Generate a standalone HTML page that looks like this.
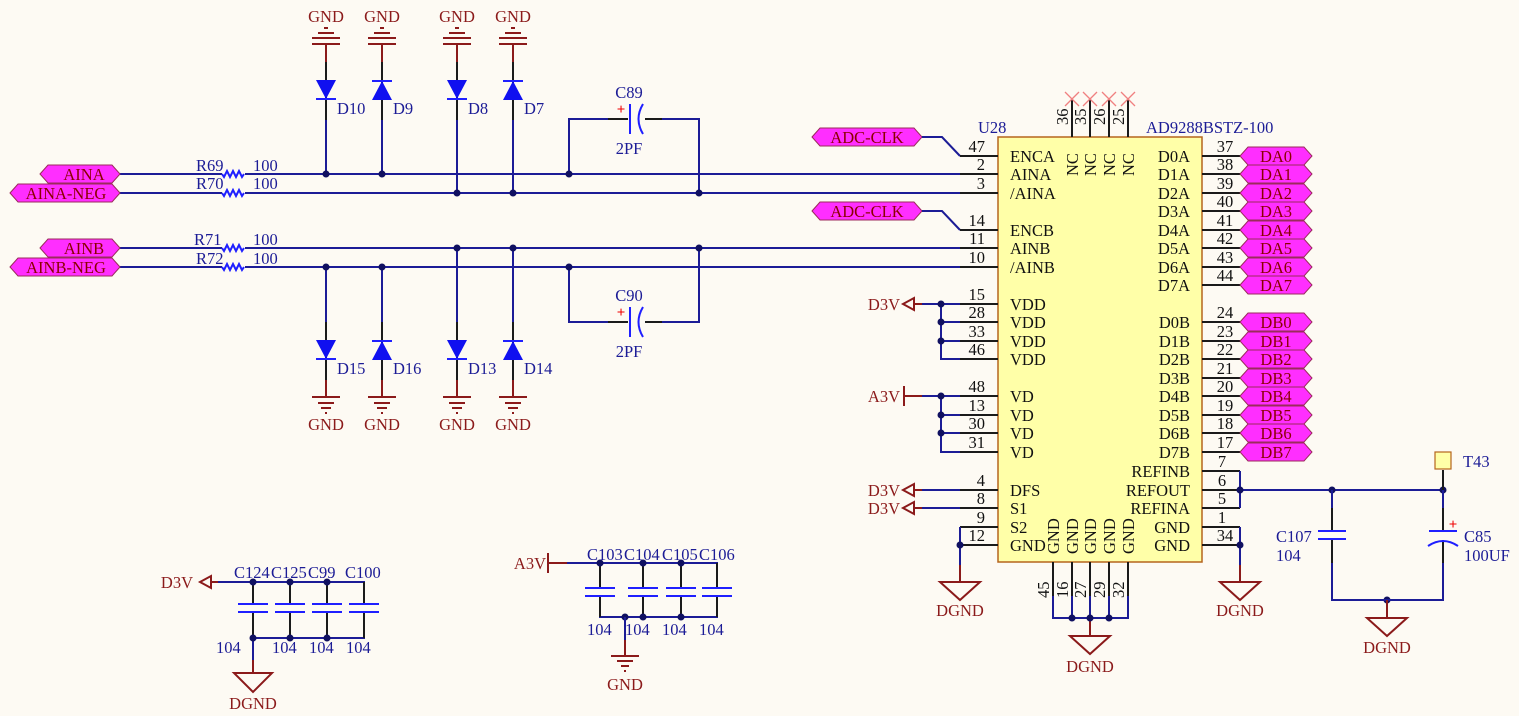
<!DOCTYPE html>
<html><head><meta charset="utf-8"><style>
html,body{margin:0;padding:0;background:#fdfaf3;}
svg{display:block;font-family:"Liberation Serif",serif;}
.w{stroke:#1c1c96;stroke-width:2;fill:none}
.k{stroke:#1a1a1a;stroke-width:2;fill:none}
.r{stroke:#8b1a1a;stroke-width:2;fill:none}
.cp{stroke:#1f1fff;stroke-width:2;fill:none}
.t{fill:#1c1c96;font-size:16.5px}
.n{fill:#111;font-size:16.5px}
.rd{fill:#8b1a1a;font-size:16.5px}
.pt{fill:#ff2eff;stroke:#9b2b5b;stroke-width:1}
.pl{fill:#8b0000;font-size:16.5px;text-anchor:middle}
.d{fill:#101060}
</style></head><body>
<svg width="1519" height="716" viewBox="0 0 1519 716" xmlns="http://www.w3.org/2000/svg">
<rect width="1519" height="716" fill="#fdfaf3"/>

<path class="w" d="M120 174H222M245 174H997M120 193H222M245 193H997M120 248H222M245 248H997M120 267H222M245 267H997"/>
<path class="cp" d="M222 174l2 3l3-6l3 6l3-6l3 6l3-6l3 6l2-3M222 193l2 3l3-6l3 6l3-6l3 6l3-6l3 6l2-3M222 248l2 3l3-6l3 6l3-6l3 6l3-6l3 6l2-3M222 267l2 3l3-6l3 6l3-6l3 6l3-6l3 6l2-3"/>
<polygon class="pt" points="40,174 48,165 112,165 120,174 112,183 48,183"/>
<text class="pl" x="84" y="180">AINA</text>
<polygon class="pt" points="10,193 18,184 112,184 120,193 112,202 18,202"/>
<text class="pl" x="66" y="199">AINA-NEG</text>
<polygon class="pt" points="40,248 48,239 112,239 120,248 112,257 48,257"/>
<text class="pl" x="84" y="254">AINB</text>
<polygon class="pt" points="10,267 18,258 112,258 120,267 112,276 18,276"/>
<text class="pl" x="66" y="273">AINB-NEG</text>
<text class="t" x="196" y="171">R69</text><text class="t" x="253" y="171">100</text>
<text class="t" x="196" y="189">R70</text><text class="t" x="253" y="189">100</text>
<text class="t" x="194" y="245">R71</text><text class="t" x="253" y="245">100</text>
<text class="t" x="196" y="264">R72</text><text class="t" x="253" y="264">100</text>

<g>
<path class="r" d="M326 44V62M382 44V62M457 44V62M513 44V62"/>
<path class="r" d="M324 28h4M318 33h16M312 38h28M312 44h28M380 28h4M374 33h16M368 38h28M368 44h28M455 28h4M449 33h16M443 38h28M443 44h28M511 28h4M505 33h16M499 38h28M499 44h28"/>
<text class="rd" x="326" y="22" text-anchor="middle">GND</text>
<text class="rd" x="382" y="22" text-anchor="middle">GND</text>
<text class="rd" x="457" y="22" text-anchor="middle">GND</text>
<text class="rd" x="513" y="22" text-anchor="middle">GND</text>
<path class="k" d="M326 62V120M382 62V120M457 62V120M513 62V120"/>
<path class="w" d="M326 120V174M382 120V174M457 120V193M513 120V193"/>
<polygon fill="#1010f0" points="316,80 336,80 326,99"/><path class="cp" d="M316 99h20"/>
<polygon fill="#1010f0" points="372,100 392,100 382,81"/><path class="cp" d="M372 81h20"/>
<polygon fill="#1010f0" points="447,80 467,80 457,99"/><path class="cp" d="M447 99h20"/>
<polygon fill="#1010f0" points="503,100 523,100 513,81"/><path class="cp" d="M503 81h20"/>
<text class="t" x="337" y="114">D10</text><text class="t" x="393" y="114">D9</text>
<text class="t" x="468" y="114">D8</text><text class="t" x="524" y="114">D7</text>
</g>
<g>
<path class="w" d="M326 267V322M382 267V322M457 248V322M513 248V322"/>
<path class="k" d="M326 322V380M382 322V380M457 322V380M513 322V380"/>
<path class="r" d="M326 380V397M382 380V397M457 380V397M513 380V397"/>
<path class="r" d="M312 397h28M318 403h16M321 408h10M325 413h2M368 397h28M374 403h16M377 408h10M381 413h2M443 397h28M449 403h16M452 408h10M456 413h2M499 397h28M505 403h16M508 408h10M512 413h2"/>
<text class="rd" x="326" y="430" text-anchor="middle">GND</text>
<text class="rd" x="382" y="430" text-anchor="middle">GND</text>
<text class="rd" x="457" y="430" text-anchor="middle">GND</text>
<text class="rd" x="513" y="430" text-anchor="middle">GND</text>
<polygon fill="#1010f0" points="316,340 336,340 326,359"/><path class="cp" d="M316 359h20"/>
<polygon fill="#1010f0" points="372,360 392,360 382,341"/><path class="cp" d="M372 341h20"/>
<polygon fill="#1010f0" points="447,340 467,340 457,359"/><path class="cp" d="M447 359h20"/>
<polygon fill="#1010f0" points="503,360 523,360 513,341"/><path class="cp" d="M503 341h20"/>
<text class="t" x="337" y="374">D15</text><text class="t" x="393" y="374">D16</text>
<text class="t" x="468" y="374">D13</text><text class="t" x="524" y="374">D14</text>
</g>
<path class="w" d="M569 174V119H608M662 119H699V193M569 267V322H608M662 322H699V248"/>
<path class="k" d="M608 119H628M645 119H662M608 322H628M645 322H662"/>
<path class="cp" d="M630 104V134M643 104Q634 119 643 134M630 307V337M643 307Q634 322 643 337"/>
<text x="621" y="114" fill="#e00" font-size="15" font-weight="bold" text-anchor="middle">+</text>
<text x="621" y="317" fill="#e00" font-size="15" font-weight="bold" text-anchor="middle">+</text>
<text class="t" x="629" y="98" text-anchor="middle">C89</text><text class="t" x="629" y="154" text-anchor="middle">2PF</text>
<text class="t" x="629" y="301" text-anchor="middle">C90</text><text class="t" x="629" y="357" text-anchor="middle">2PF</text>
<g class="d">
<circle cx="326" cy="174" r="3.5"/><circle cx="382" cy="174" r="3.5"/><circle cx="569" cy="174" r="3.5"/>
<circle cx="457" cy="193" r="3.5"/><circle cx="513" cy="193" r="3.5"/><circle cx="699" cy="193" r="3.5"/>
<circle cx="457" cy="248" r="3.5"/><circle cx="513" cy="248" r="3.5"/><circle cx="699" cy="248" r="3.5"/>
<circle cx="326" cy="267" r="3.5"/><circle cx="382" cy="267" r="3.5"/><circle cx="569" cy="267" r="3.5"/>
</g>

<polygon class="pt" points="812,137 820,128 914,128 922,137 914,146 820,146"/>
<text class="pl" x="867" y="143">ADC-CLK</text>
<polygon class="pt" points="812,211 820,202 914,202 922,211 914,220 820,220"/>
<text class="pl" x="867" y="217">ADC-CLK</text>
<path class="w" d="M922 137H942L960 156M922 211H942L960 230"/>

<rect x="998" y="137" width="204" height="425" fill="#ffffa8" stroke="#b5651d" stroke-width="1.5"/>
<text class="t" x="978" y="133">U28</text>
<text class="t" x="1146" y="133">AD9288BSTZ-100</text>
<path class="k" d="M960 156H998M960 174H998M960 193H998M960 230H998M960 248H998M960 267H998M960 304H998M960 322H998M960 341H998M960 359H998M960 396H998M960 415H998M960 433H998M960 452H998M960 490H998M960 508H998M960 527H998M960 545H998"/>
<g class="n" text-anchor="end">
<text x="985" y="152">47</text><text x="985" y="170">2</text><text x="985" y="189">3</text>
<text x="985" y="226">14</text><text x="985" y="244">11</text><text x="985" y="263">10</text>
<text x="985" y="300">15</text><text x="985" y="318">28</text><text x="985" y="337">33</text><text x="985" y="355">46</text>
<text x="985" y="392">48</text><text x="985" y="411">13</text><text x="985" y="429">30</text><text x="985" y="448">31</text>
<text x="985" y="486">4</text><text x="985" y="504">8</text><text x="985" y="523">9</text><text x="985" y="541">12</text>
</g>
<g class="n">
<text x="1010" y="162">ENCA</text><text x="1010" y="180">AINA</text><text x="1010" y="199">/AINA</text>
<text x="1010" y="236">ENCB</text><text x="1010" y="254">AINB</text><text x="1010" y="273">/AINB</text>
<text x="1010" y="310">VDD</text><text x="1010" y="328">VDD</text><text x="1010" y="347">VDD</text><text x="1010" y="365">VDD</text>
<text x="1010" y="402">VD</text><text x="1010" y="421">VD</text><text x="1010" y="439">VD</text><text x="1010" y="458">VD</text>
<text x="1010" y="496">DFS</text><text x="1010" y="514">S1</text><text x="1010" y="533">S2</text><text x="1010" y="551">GND</text>
</g>
<path class="k" d="M1202 156H1240M1202 174H1240M1202 193H1240M1202 211H1240M1202 230H1240M1202 248H1240M1202 267H1240M1202 285H1240M1202 322H1240M1202 341H1240M1202 359H1240M1202 378H1240M1202 396H1240M1202 415H1240M1202 433H1240M1202 452H1240M1202 471H1240M1202 490H1240M1202 508H1240M1202 527H1240M1202 545H1240"/>
<g class="n" text-anchor="middle">
<text x="1225" y="152">37</text><text x="1225" y="170">38</text><text x="1225" y="189">39</text><text x="1225" y="207">40</text>
<text x="1225" y="226">41</text><text x="1225" y="244">42</text><text x="1225" y="263">43</text><text x="1225" y="281">44</text>
<text x="1225" y="318">24</text><text x="1225" y="337">23</text><text x="1225" y="355">22</text><text x="1225" y="374">21</text>
<text x="1225" y="392">20</text><text x="1225" y="411">19</text><text x="1225" y="429">18</text><text x="1225" y="448">17</text>
<text x="1222" y="467">7</text><text x="1222" y="486">6</text><text x="1222" y="504">5</text><text x="1222" y="523">1</text><text x="1225" y="541">34</text>
</g>
<g class="n" text-anchor="end">
<text x="1190" y="162">D0A</text><text x="1190" y="180">D1A</text><text x="1190" y="199">D2A</text><text x="1190" y="217">D3A</text>
<text x="1190" y="236">D4A</text><text x="1190" y="254">D5A</text><text x="1190" y="273">D6A</text><text x="1190" y="291">D7A</text>
<text x="1190" y="328">D0B</text><text x="1190" y="347">D1B</text><text x="1190" y="365">D2B</text><text x="1190" y="384">D3B</text>
<text x="1190" y="402">D4B</text><text x="1190" y="421">D5B</text><text x="1190" y="439">D6B</text><text x="1190" y="458">D7B</text>
<text x="1190" y="477">REFINB</text><text x="1190" y="496">REFOUT</text><text x="1190" y="514">REFINA</text><text x="1190" y="533">GND</text><text x="1190" y="551">GND</text>
</g>
<g>
<polygon class="pt" points="1240,156 1248,147 1304,147 1312,156 1304,165 1248,165"/>
<polygon class="pt" points="1240,174 1248,165 1304,165 1312,174 1304,183 1248,183"/>
<polygon class="pt" points="1240,193 1248,184 1304,184 1312,193 1304,202 1248,202"/>
<polygon class="pt" points="1240,211 1248,202 1304,202 1312,211 1304,220 1248,220"/>
<polygon class="pt" points="1240,230 1248,221 1304,221 1312,230 1304,239 1248,239"/>
<polygon class="pt" points="1240,248 1248,239 1304,239 1312,248 1304,257 1248,257"/>
<polygon class="pt" points="1240,267 1248,258 1304,258 1312,267 1304,276 1248,276"/>
<polygon class="pt" points="1240,285 1248,276 1304,276 1312,285 1304,294 1248,294"/>
<polygon class="pt" points="1240,322 1248,313 1304,313 1312,322 1304,331 1248,331"/>
<polygon class="pt" points="1240,341 1248,332 1304,332 1312,341 1304,350 1248,350"/>
<polygon class="pt" points="1240,359 1248,350 1304,350 1312,359 1304,368 1248,368"/>
<polygon class="pt" points="1240,378 1248,369 1304,369 1312,378 1304,387 1248,387"/>
<polygon class="pt" points="1240,396 1248,387 1304,387 1312,396 1304,405 1248,405"/>
<polygon class="pt" points="1240,415 1248,406 1304,406 1312,415 1304,424 1248,424"/>
<polygon class="pt" points="1240,433 1248,424 1304,424 1312,433 1304,442 1248,442"/>
<polygon class="pt" points="1240,452 1248,443 1304,443 1312,452 1304,461 1248,461"/>
</g>
<g class="pl">
<text x="1276" y="162">DA0</text><text x="1276" y="180">DA1</text><text x="1276" y="199">DA2</text><text x="1276" y="217">DA3</text>
<text x="1276" y="236">DA4</text><text x="1276" y="254">DA5</text><text x="1276" y="273">DA6</text><text x="1276" y="291">DA7</text>
<text x="1276" y="328">DB0</text><text x="1276" y="347">DB1</text><text x="1276" y="365">DB2</text><text x="1276" y="384">DB3</text>
<text x="1276" y="402">DB4</text><text x="1276" y="421">DB5</text><text x="1276" y="439">DB6</text><text x="1276" y="458">DB7</text>
</g>
<path class="k" d="M1072 100V137M1090 100V137M1109 100V137M1128 100V137"/>
<path stroke="#f08080" stroke-width="1.3" d="M1065 92l14 14M1079 92l-14 14M1083 92l14 14M1097 92l-14 14M1102 92l14 14M1116 92l-14 14M1121 92l14 14M1135 92l-14 14"/>
<g class="n">
<text transform="translate(1068,125) rotate(-90)">36</text><text transform="translate(1086,125) rotate(-90)">35</text>
<text transform="translate(1105,125) rotate(-90)">26</text><text transform="translate(1124,125) rotate(-90)">25</text>
<text transform="translate(1078,176) rotate(-90)">NC</text><text transform="translate(1096,176) rotate(-90)">NC</text>
<text transform="translate(1115,176) rotate(-90)">NC</text><text transform="translate(1134,176) rotate(-90)">NC</text>
<text transform="translate(1059,554) rotate(-90)">GND</text><text transform="translate(1078,554) rotate(-90)">GND</text>
<text transform="translate(1096,554) rotate(-90)">GND</text><text transform="translate(1115,554) rotate(-90)">GND</text>
<text transform="translate(1134,554) rotate(-90)">GND</text>
<text transform="translate(1049,598) rotate(-90)">45</text><text transform="translate(1068,598) rotate(-90)">16</text>
<text transform="translate(1086,598) rotate(-90)">27</text><text transform="translate(1105,598) rotate(-90)">29</text>
<text transform="translate(1124,598) rotate(-90)">32</text>
</g>
<path class="k" d="M1053 562V596M1072 562V596M1090 562V596M1109 562V596M1128 562V596"/>
<path class="w" d="M1053 596V618H1128V596M1072 596V618M1090 596V618M1109 596V618"/>
<path class="r" d="M1090 618V636M1070 636H1110L1090 654Z"/>
<text class="rd" x="1090" y="672" text-anchor="middle">DGND</text>
<g class="d"><circle cx="1072" cy="618" r="3.5"/><circle cx="1090" cy="618" r="3.5"/><circle cx="1109" cy="618" r="3.5"/></g>

<path class="w" d="M922 304H960M922 396H960M922 490H960M922 508H960M941 304V359H960M941 322H960M941 341H960M941 396V452H960M941 415H960M941 433H960"/>
<path class="r" d="M903 304l11-6v12z M914 304H922M904 386V406M904 396H922M903 490l11-6v12zM914 490H922M903 508l11-6v12zM914 508H922"/>
<text class="rd" x="900" y="310" text-anchor="end">D3V</text>
<text class="rd" x="900" y="402" text-anchor="end">A3V</text>
<text class="rd" x="900" y="496" text-anchor="end">D3V</text>
<text class="rd" x="900" y="514" text-anchor="end">D3V</text>
<g class="d"><circle cx="941" cy="304" r="3.5"/><circle cx="941" cy="322" r="3.5"/><circle cx="941" cy="341" r="3.5"/>
<circle cx="941" cy="396" r="3.5"/><circle cx="941" cy="415" r="3.5"/><circle cx="941" cy="433" r="3.5"/></g>
<path class="w" d="M960 527V565"/>
<path class="r" d="M960 565V582M940 582H980L960 600Z"/>
<text class="rd" x="960" y="616" text-anchor="middle">DGND</text>
<circle class="d" cx="960" cy="545" r="3.5"/>

<path class="w" d="M1240 471V508M1240 490H1443M1240 527V565"/>
<path class="r" d="M1240 565V582M1220 582H1260L1240 600Z"/>
<text class="rd" x="1240" y="616" text-anchor="middle">DGND</text>
<g class="d"><circle cx="1240" cy="490" r="3.5"/><circle cx="1240" cy="545" r="3.5"/><circle cx="1332" cy="490" r="3.5"/><circle cx="1443" cy="490" r="3.5"/><circle cx="1387" cy="600" r="3.5"/></g>
<path class="w" d="M1332 490V508M1332 563V600H1443V563M1443 490V508"/>
<path class="k" d="M1443 470V490M1332 508V531M1332 540V563M1443 508V531M1443 540V563"/>
<path class="cp" d="M1318 531H1346M1318 539H1346M1429 531H1457M1428 546Q1443 536 1458 546"/>
<text x="1453" y="529" fill="#e00" font-size="15" font-weight="bold" text-anchor="middle">+</text>
<rect x="1435" y="452" width="16" height="17" fill="#ffffa8" stroke="#b5651d" stroke-width="1.2"/>
<text class="t" x="1463" y="467">T43</text>
<text class="t" x="1276" y="542">C107</text><text class="t" x="1276" y="561">104</text>
<text class="t" x="1464" y="542">C85</text><text class="t" x="1464" y="561">100UF</text>
<path class="r" d="M1387 600V618M1367 618H1407L1387 636Z"/>
<text class="rd" x="1387" y="653" text-anchor="middle">DGND</text>

<path class="r" d="M200 582l11-6v12zM211 582H218"/>
<text class="rd" x="193" y="588" text-anchor="end">D3V</text>
<path class="w" d="M218 582H364V596M253 582V596M290 582V596M327 582V596M253 638H364V620M253 620V638M290 620V638M327 620V638M253 638V660"/>
<path class="k" d="M253 582V603M290 582V603M327 582V603M364 582V603M253 612V638M290 612V638M327 612V638M364 612V638"/>
<path class="cp" d="M238 604H268M238 612H268M275 604H305M275 612H305M312 604H342M312 612H342M349 604H379M349 612H379"/>
<g class="d"><circle cx="253" cy="582" r="3.5"/><circle cx="290" cy="582" r="3.5"/><circle cx="327" cy="582" r="3.5"/>
<circle cx="253" cy="638" r="3.5"/><circle cx="290" cy="638" r="3.5"/><circle cx="327" cy="638" r="3.5"/></g>
<path class="r" d="M253 660V673M234 673H272L253 692Z"/>
<text class="rd" x="253" y="709" text-anchor="middle">DGND</text>
<text class="t" x="234" y="578">C124</text><text class="t" x="271" y="578">C125</text><text class="t" x="308" y="578">C99</text><text class="t" x="345" y="578">C100</text>
<text class="t" x="216" y="653">104</text><text class="t" x="272" y="653">104</text><text class="t" x="309" y="653">104</text><text class="t" x="346" y="653">104</text>

<path class="r" d="M548 553V573M548 563H567"/>
<text class="rd" x="546" y="569" text-anchor="end">A3V</text>
<path class="w" d="M567 563H717V580M600 563V580M643 563V580M681 563V580M600 603V617H717V603M643 603V617M681 603V617"/>
<path class="k" d="M600 563V587M643 563V587M681 563V587M717 563V587M600 595V617M643 595V617M681 595V617M717 595V617"/>
<path class="cp" d="M585 588H615M585 596H615M628 588H658M628 596H658M666 588H696M666 596H696M702 588H732M702 596H732"/>
<g class="d"><circle cx="600" cy="563" r="3.5"/><circle cx="643" cy="563" r="3.5"/><circle cx="681" cy="563" r="3.5"/>
<circle cx="625" cy="617" r="3.5"/><circle cx="643" cy="617" r="3.5"/><circle cx="681" cy="617" r="3.5"/></g>
<path class="w" d="M625 617V640"/>
<path class="r" d="M625 640V656M611 656H639M617 661H633M621 666H629M624 671H626"/>
<text class="rd" x="625" y="690" text-anchor="middle">GND</text>
<text class="t" x="587" y="560">C103</text><text class="t" x="624" y="560">C104</text><text class="t" x="662" y="560">C105</text><text class="t" x="699" y="560">C106</text>
<text class="t" x="587" y="635">104</text><text class="t" x="625" y="635">104</text><text class="t" x="662" y="635">104</text><text class="t" x="699" y="635">104</text>
</svg>
</body></html>
